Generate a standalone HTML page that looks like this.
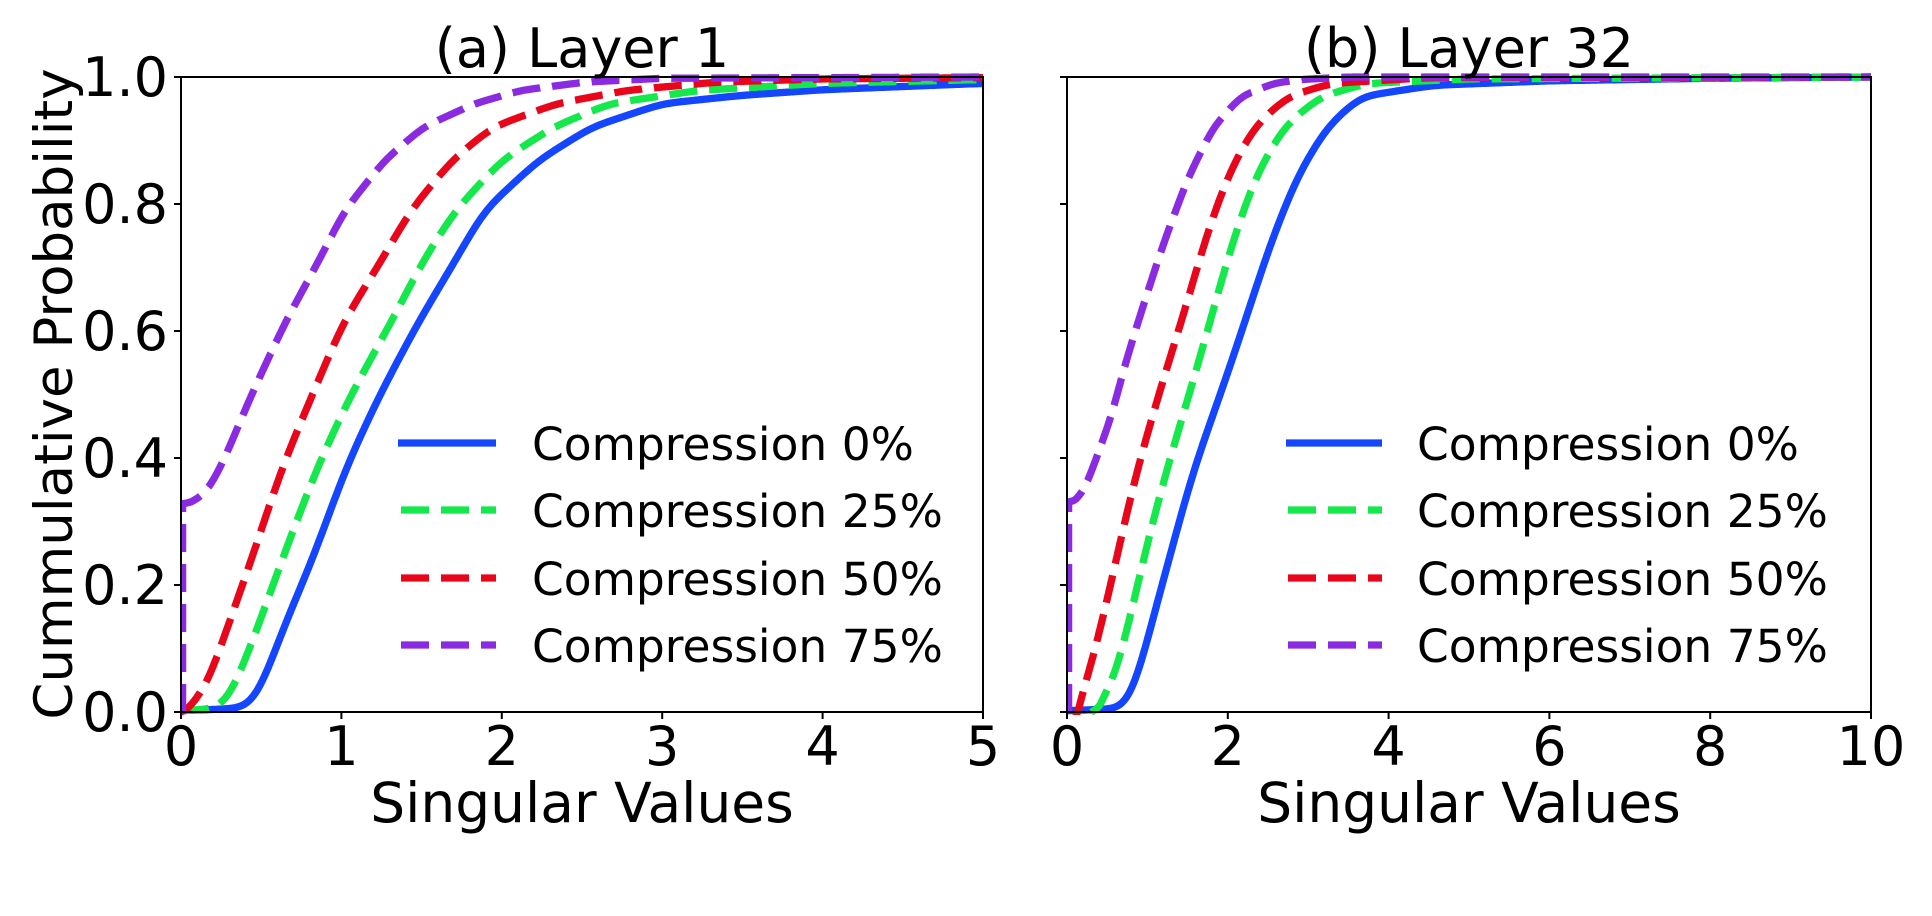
<!DOCTYPE html>
<html><head><meta charset="utf-8"><style>
html,body{margin:0;padding:0;background:#fff}
svg{display:block}
text{font-family:"DejaVu Sans","Liberation Sans",sans-serif;fill:#000}
</style></head><body>
<svg id="s" width="1932" height="916" viewBox="0 0 1932 916" xmlns="http://www.w3.org/2000/svg">
<defs>
<clipPath id="c1"><rect x="181" y="70" width="802" height="645"/></clipPath>
<clipPath id="c2"><rect x="1067" y="70" width="804" height="645"/></clipPath>
</defs>
<g id="g1" clip-path="url(#c1)"></g>
<g id="g2" clip-path="url(#c2)"></g>
<rect x="181" y="77" width="802" height="635" fill="none" stroke="#000" stroke-width="2"/>
<rect x="1067" y="77" width="804" height="635" fill="none" stroke="#000" stroke-width="2"/>
<g stroke="#000" stroke-width="2">
<line x1="174" y1="712" x2="181" y2="712"/><line x1="174" y1="585" x2="181" y2="585"/><line x1="174" y1="458" x2="181" y2="458"/><line x1="174" y1="331" x2="181" y2="331"/><line x1="174" y1="204" x2="181" y2="204"/><line x1="174" y1="77" x2="181" y2="77"/>
<line x1="1060" y1="712" x2="1067" y2="712"/><line x1="1060" y1="585" x2="1067" y2="585"/><line x1="1060" y1="458" x2="1067" y2="458"/><line x1="1060" y1="331" x2="1067" y2="331"/><line x1="1060" y1="204" x2="1067" y2="204"/><line x1="1060" y1="77" x2="1067" y2="77"/>
<line x1="181" y1="712" x2="181" y2="719"/><line x1="341.4" y1="712" x2="341.4" y2="719"/><line x1="501.8" y1="712" x2="501.8" y2="719"/><line x1="662.2" y1="712" x2="662.2" y2="719"/><line x1="822.6" y1="712" x2="822.6" y2="719"/><line x1="983" y1="712" x2="983" y2="719"/>
<line x1="1067" y1="712" x2="1067" y2="719"/><line x1="1227.8" y1="712" x2="1227.8" y2="719"/><line x1="1388.6" y1="712" x2="1388.6" y2="719"/><line x1="1549.4" y1="712" x2="1549.4" y2="719"/><line x1="1710.2" y1="712" x2="1710.2" y2="719"/><line x1="1871" y1="712" x2="1871" y2="719"/>
</g>
<g font-size="54" text-anchor="end">
<text x="168" y="731">0.0</text><text x="168" y="604">0.2</text><text x="168" y="477">0.4</text><text x="168" y="350">0.6</text><text x="168" y="223">0.8</text><text x="168" y="96">1.0</text>
</g>
<g font-size="54" text-anchor="middle">
<text x="181" y="765">0</text><text x="341.4" y="765">1</text><text x="501.8" y="765">2</text><text x="662.2" y="765">3</text><text x="822.6" y="765">4</text><text x="983" y="765">5</text>
<text x="1067" y="765">0</text><text x="1227.8" y="765">2</text><text x="1388.6" y="765">4</text><text x="1549.4" y="765">6</text><text x="1710.2" y="765">8</text><text x="1871" y="765">10</text>
<text x="582" y="822" font-size="55">Singular Values</text>
<text x="1469" y="822" font-size="55">Singular Values</text>
<text x="582" y="67" font-size="54">(a) Layer 1</text>
<text x="1469" y="67" font-size="54">(b) Layer 32</text>
<text transform="translate(72,394) rotate(-90)" font-size="53">Cummulative Probability</text>
</g>
<g stroke-width="7.3" fill="none">
<line x1="398" y1="443" x2="496" y2="443" stroke="#1446ff"/>
<line x1="401" y1="510" x2="496" y2="510" stroke="#14e84a" stroke-dasharray="28 12"/>
<line x1="401" y1="578" x2="496" y2="578" stroke="#e8061a" stroke-dasharray="28 12"/>
<line x1="401" y1="645" x2="496" y2="645" stroke="#8a2be2" stroke-dasharray="28 12"/>
<line x1="1286" y1="443" x2="1382" y2="443" stroke="#1446ff"/>
<line x1="1288" y1="510" x2="1382" y2="510" stroke="#14e84a" stroke-dasharray="28 12"/>
<line x1="1288" y1="578" x2="1382" y2="578" stroke="#e8061a" stroke-dasharray="28 12"/>
<line x1="1288" y1="645" x2="1382" y2="645" stroke="#8a2be2" stroke-dasharray="28 12"/>
</g>
<g font-size="45.5">
<text x="532" y="460">Compression 0%</text><text x="532" y="527">Compression 25%</text><text x="532" y="595">Compression 50%</text><text x="532" y="662">Compression 75%</text>
<text x="1417" y="460">Compression 0%</text><text x="1417" y="527">Compression 25%</text><text x="1417" y="595">Compression 50%</text><text x="1417" y="662">Compression 75%</text>
</g>
</svg>
<script>
(function(){
var NS="http://www.w3.org/2000/svg";
function lin(xs,ys,x){
 if(x<=xs[0])return ys[0]; if(x>=xs[xs.length-1])return ys[ys.length-1];
 var k=0;while(x>xs[k+1])k++;
 return ys[k]+(ys[k+1]-ys[k])*(x-xs[k])/(xs[k+1]-xs[k]);
}
function draw(g,x0,sx,data,color,dash,vert,sig){
 var xs=data.map(function(a){return a[0]}),ys=data.map(function(a){return a[1]});
 var a=xs[0],b=xs[xs.length-1],N=1500,dx=(b-a)/N,raw=[],i,j;
 for(i=0;i<=N;i++)raw.push(lin(xs,ys,a+i*dx));
 var K=Math.ceil(3*sig/dx),w=[];
 for(j=-K;j<=K;j++){w.push(Math.exp(-0.5*(j*dx/sig)*(j*dx/sig)));}
 var pts=[];
 if(vert)pts.push([a,0]);
 for(i=0;i<=N;i++){
  var s=0,t=0;
  for(j=-K;j<=K;j++){var idx=i+j;var y=idx<0?raw[0]:(idx>N?raw[N]:raw[idx]);s+=w[j+K]*y;t+=w[j+K];}
  var yy=s/t, e=Math.min(1,i*dx/(1.5*sig));
  yy=raw[i]*(1-e)+yy*e;
  pts.push([a+i*dx,yy]);
 }
 var d=pts.map(function(p,i){return (i?"L":"M")+(x0+p[0]*sx).toFixed(1)+","+(712-p[1]*635).toFixed(1)}).join(" ");
 var p=document.createElementNS(NS,"path");
 p.setAttribute("d",d);p.setAttribute("fill","none");p.setAttribute("stroke",color);
 p.setAttribute("stroke-width","7.3");p.setAttribute("stroke-linejoin","round");
 if(dash)p.setAttribute("stroke-dasharray","28 12");
 g.appendChild(p);
}
var g1=document.getElementById("g1"),g2=document.getElementById("g2");
var L={
 b:[[0,0.002],[0.3,0.005],[0.44,0.008],[0.49,0.03],[0.64,0.134],[0.82,0.24],[1.03,0.386],[1.24,0.5],[1.48,0.614],[1.71,0.711],[1.89,0.79],[2.23,0.869],[2.56,0.921],[3.0,0.958],[3.49,0.971],[4,0.98],[5,0.99]],
 g:[[0,0.002],[0.27,0.006],[0.32,0.03],[0.48,0.134],[0.63,0.24],[0.85,0.386],[1.06,0.5],[1.31,0.614],[1.51,0.711],[1.71,0.79],[2.0,0.869],[2.32,0.921],[2.67,0.958],[3.23,0.979],[4,0.99],[5,0.996]],
 r:[[0,0],[0.04,0.003],[0.15,0.03],[0.29,0.134],[0.44,0.24],[0.63,0.386],[0.82,0.5],[1.01,0.614],[1.25,0.711],[1.43,0.79],[1.69,0.869],[1.94,0.921],[2.34,0.958],[2.78,0.979],[3.34,0.992],[4,0.997],[5,0.999]],
 p:[[0.01,0.328],[0.08,0.33],[0.16,0.345],[0.25,0.386],[0.44,0.5],[0.65,0.614],[0.86,0.711],[1.02,0.79],[1.27,0.869],[1.51,0.921],[1.83,0.958],[2.12,0.979],[2.52,0.992],[3,0.998],[5,1]]
};
var R={
 b:[[0,0.002],[0.6,0.005],[0.77,0.008],[0.89,0.058],[1.1,0.163],[1.33,0.268],[1.55,0.373],[1.99,0.53],[2.26,0.633],[2.53,0.738],[2.86,0.843],[3.23,0.921],[3.65,0.969],[4.56,0.987],[6,0.994],[8,0.998],[10,1]],
 g:[[0.3,0],[0.41,0.004],[0.62,0.058],[0.81,0.163],[1.0,0.268],[1.22,0.373],[1.59,0.53],[1.82,0.633],[2.05,0.738],[2.34,0.843],[2.69,0.921],[3.15,0.969],[3.73,0.99],[5,0.997],[10,1]],
 r:[[0.1,-0.01],[0.145,0],[0.27,0.058],[0.48,0.163],[0.66,0.268],[0.85,0.373],[1.21,0.53],[1.47,0.633],[1.7,0.738],[1.99,0.843],[2.32,0.921],[2.74,0.969],[3.28,0.99],[4.5,0.999],[10,1]],
 p:[[0.02,0.331],[0.15,0.333],[0.22,0.35],[0.31,0.38],[0.45,0.43],[0.57,0.47],[0.68,0.53],[0.93,0.633],[1.2,0.738],[1.51,0.843],[1.82,0.921],[2.16,0.969],[2.57,0.99],[2.9,0.996],[3.5,1],[10,1]]
};
var sl=0.07,sr=0.13;
draw(g1,181,160.4,L.b,"#1446ff",false,false,sl);draw(g1,181,160.4,L.g,"#14e84a",true,false,sl);draw(g1,181,160.4,L.r,"#e8061a",true,false,sl);draw(g1,181,160.4,L.p,"#8a2be2",true,true,0.05);
draw(g2,1067,80.4,R.b,"#1446ff",false,false,sr);draw(g2,1067,80.4,R.g,"#14e84a",true,false,sr);draw(g2,1067,80.4,R.r,"#e8061a",true,false,sr);draw(g2,1067,80.4,R.p,"#8a2be2",true,true,0.08);
})();
</script>
</body></html>
